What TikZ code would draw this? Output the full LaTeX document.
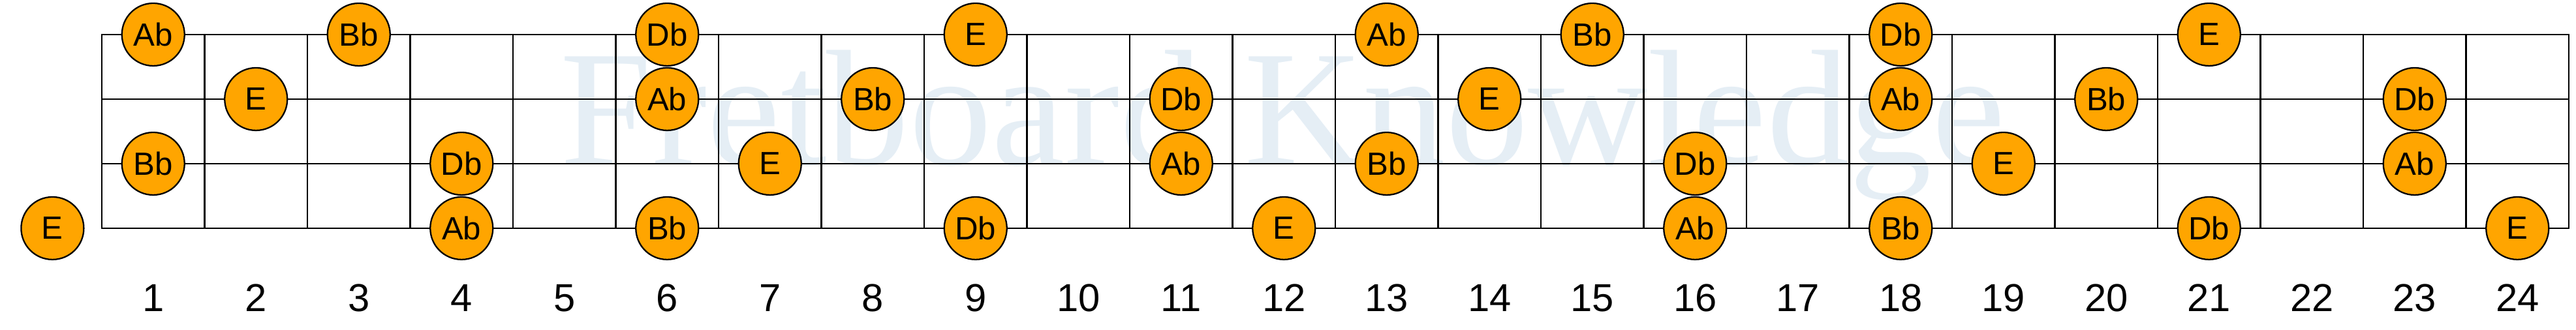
\documentclass[tikz,border=0pt]{standalone}
\usepackage{fontspec}
\setmainfont{Liberation Sans}
\newfontfamily\markfont{Liberation Serif}
\definecolor{notefill}{RGB}{255,165,0}
\definecolor{markblue}{RGB}{229,238,245}
\begin{document}
\begin{tikzpicture}
	[x=1.575cm,y=0.99cm,line width=0.65pt,
	note/.style={circle,draw,fill=notefill,minimum size=0.96cm,inner sep=0pt,font=\fontsize{14}{16}\selectfont},
	fretnum/.style={font=\fontsize{17}{20}\selectfont}]
	\useasboundingbox (-0.9905,-1.576) rectangle (24.07,3.535);
	\node[name=mark,text=markblue,anchor=base,font=\markfont\fontsize{72}{86}\selectfont] at (11.49,0.98) {Fretboard Knowledge};
	\draw (0,0) rectangle (24,3);
	\foreach \s in {1,2} \draw (0,\s) -- (24,\s);
	\foreach \f in {1,...,23} \draw (\f,0) -- (\f,3);
	\foreach \f in {1,...,24} \node[fretnum,name=n\f] at (\f-0.5,-1.08) {\f};
	% G string
	\node[note,name=g1] at (0.5,3) {Ab};
	\node[note,name=g3] at (2.5,3) {Bb};
	\node[note,name=g6] at (5.5,3) {Db};
	\node[note,name=g9] at (8.5,3) {E};
	\node[note,name=g13] at (12.5,3) {Ab};
	\node[note,name=g15] at (14.5,3) {Bb};
	\node[note,name=g18] at (17.5,3) {Db};
	\node[note,name=g21] at (20.5,3) {E};
	% D string
	\node[note,name=d2] at (1.5,2) {E};
	\node[note,name=d6] at (5.5,2) {Ab};
	\node[note,name=d8] at (7.5,2) {Bb};
	\node[note,name=d11] at (10.5,2) {Db};
	\node[note,name=d14] at (13.5,2) {E};
	\node[note,name=d18] at (17.5,2) {Ab};
	\node[note,name=d20] at (19.5,2) {Bb};
	\node[note,name=d23] at (22.5,2) {Db};
	% A string
	\node[note,name=a1] at (0.5,1) {Bb};
	\node[note,name=a4] at (3.5,1) {Db};
	\node[note,name=a7] at (6.5,1) {E};
	\node[note,name=a11] at (10.5,1) {Ab};
	\node[note,name=a13] at (12.5,1) {Bb};
	\node[note,name=a16] at (15.5,1) {Db};
	\node[note,name=a19] at (18.5,1) {E};
	\node[note,name=a23] at (22.5,1) {Ab};
	% E string
	\node[note,name=e0] at (-0.48,0) {E};
	\node[note,name=e4] at (3.5,0) {Ab};
	\node[note,name=e6] at (5.5,0) {Bb};
	\node[note,name=e9] at (8.5,0) {Db};
	\node[note,name=e12] at (11.5,0) {E};
	\node[note,name=e16] at (15.5,0) {Ab};
	\node[note,name=e18] at (17.5,0) {Bb};
	\node[note,name=e21] at (20.5,0) {Db};
	\node[note,name=e24] at (23.5,0) {E};
\end{tikzpicture}
\end{document}
